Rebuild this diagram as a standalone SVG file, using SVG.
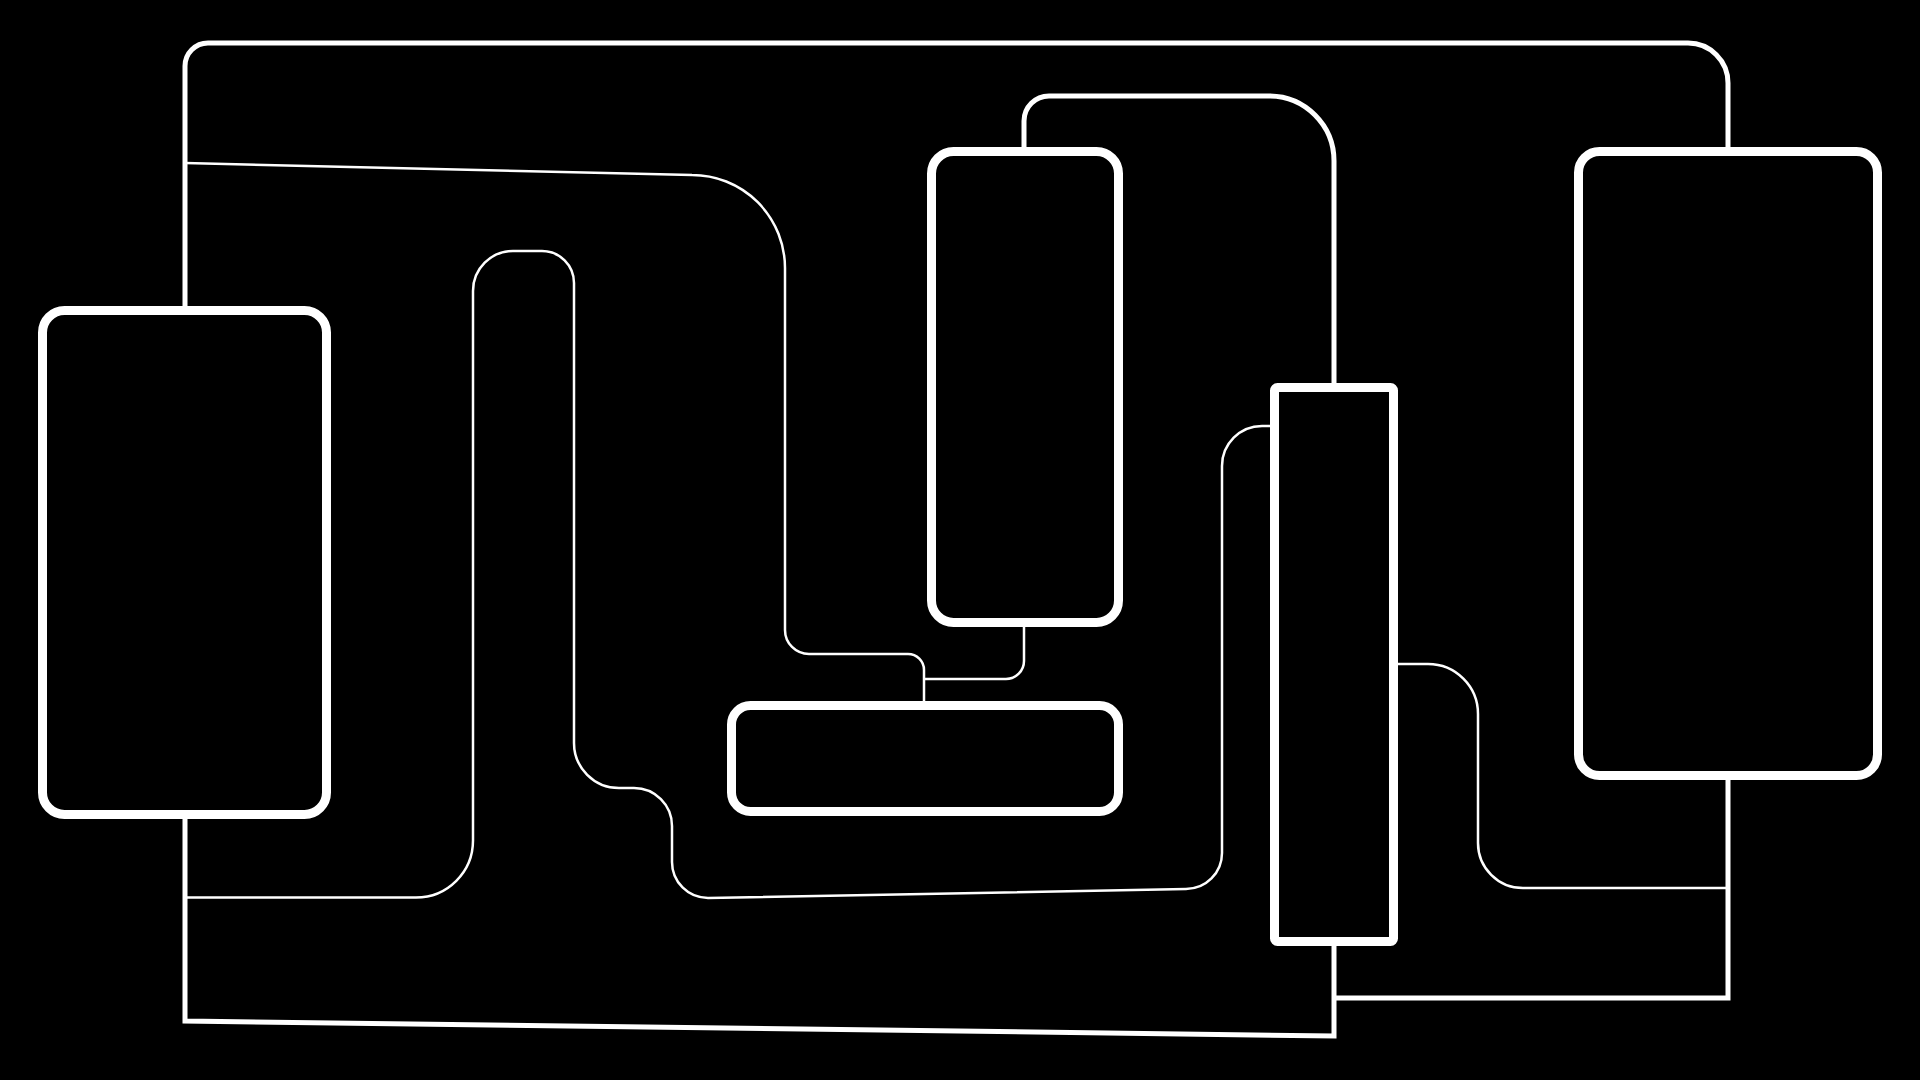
<svg xmlns="http://www.w3.org/2000/svg" width="1920" height="1080" viewBox="0 0 1920 1080">
<style>
.node{fill:#000;stroke:#fff;stroke-width:9}
.thick{fill:none;stroke:#fff;stroke-width:5}
.thin{fill:none;stroke:#fff;stroke-width:2.5}
</style>
<rect x="0" y="0" width="1920" height="1080" fill="#000"/>
<g id="connectors">
<path class="thick" d="M185,310 V66 A23,23 0 0 1 208,43 H1688 A40,40 0 0 1 1728,83 V151"/>
<path class="thick" d="M1024,151 V121 A25,25 0 0 1 1049,96 H1269 A65,65 0 0 1 1334,161 V387"/>
<path class="thick" d="M1728,776 V998 H1334"/>
<path class="thick" d="M185,815 V1021 L1334,1036 V943"/>
<path class="thin" d="M185,163 L692,175 A93,93 0 0 1 785,268 V630 A24,24 0 0 0 809,654 H908 A16,16 0 0 1 924,670 V705"/>
<path class="thin" d="M1024,623 V661 A18,18 0 0 1 1006,679 H924"/>
<path class="thin" d="M185,897.5 H416 A57,57 0 0 0 473,840.5 V291 A40,40 0 0 1 513,251 H542 A32,32 0 0 1 574,283 V743 A45,45 0 0 0 619,788 H634 A38,38 0 0 1 672,826 V862 A36,36 0 0 0 708,898 L1186,889 A36,36 0 0 0 1222,853 V466 A40,40 0 0 1 1262,426 H1274"/>
<path class="thin" d="M1394,664 H1428 A50,50 0 0 1 1478,714 V843 A45,45 0 0 0 1523,888 H1728"/>
</g>
<g id="node1"><rect class="node" x="42.5" y="310.5" width="284" height="504" rx="22"/></g>
<g id="node2"><rect class="node" x="931.5" y="151.5" width="187" height="471" rx="22"/></g>
<g id="node3"><rect class="node" x="731.5" y="705.5" width="387" height="106" rx="19"/></g>
<g id="node4"><rect class="node" x="1274.5" y="387.5" width="119" height="554" rx="3"/></g>
<g id="node5"><rect class="node" x="1578.5" y="151.5" width="299" height="624" rx="21"/></g>
</svg>
